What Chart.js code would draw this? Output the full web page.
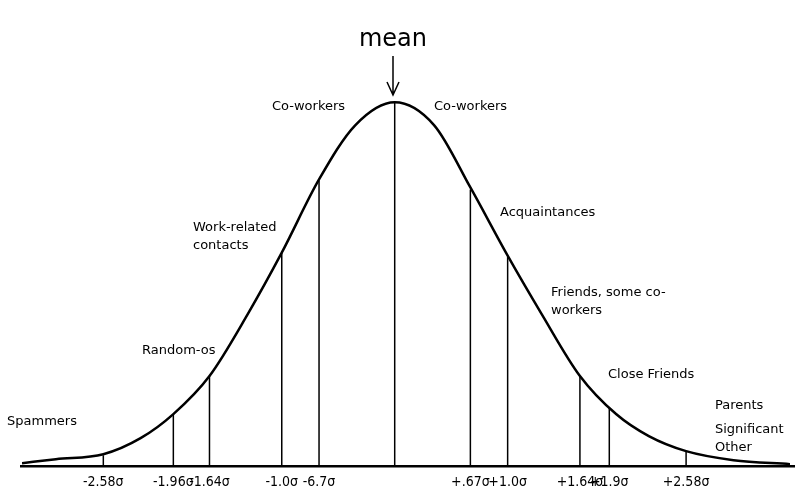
<!DOCTYPE html>
<html>
<head>
<meta charset="utf-8">
<script src="https://cdn.jsdelivr.net/npm/chart.js@4"></script>
<style>
  html, body { margin: 0; padding: 0; background: #fff; }
  #wrap { width: 806px; height: 499px; }
</style>
</head>
<body>
<div id="wrap"><canvas id="myChart" width="806" height="499"></canvas></div>
<script>
// curve (sigma position -> height above baseline)
const curveX = [-3.3, -3.0, -2.58, -2.25, -1.96, -1.64, -1.3, -1.0, -0.67, -0.35, 0, 0.35, 0.67, 1.0, 1.3, 1.64, 1.96, 2.25, 2.58, 3.0, 3.5];
const curveY = [3, 7, 12, 28, 52, 90, 152, 213, 286, 340, 363, 340, 278, 210, 152, 90, 52, 30, 15, 6, 2];

// marked cut points and height of each vertical stroke
const cutX = [-2.58, -1.96, -1.64, -1.0, -0.67, 0, 0.67, 1.0, 1.64, 1.9, 2.58];
const cutY = [11, 52, 90, 213, 285, 363, 276, 209, 90, 58, 15];
const cutLabels = ["-2.58σ", "-1.96σ", "-1.64σ", "-1.0σ", "-6.7σ", "", "+.67σ", "+1.0σ", "+1.64σ", "+1.9σ", "+2.58σ"];

// group labels: text lines, anchor pixel
const groups = [
    { lines: ["Co-workers"], x: 272, y: 107 },
    { lines: ["Co-workers"], x: 434, y: 107 },
    { lines: ["Acquaintances"], x: 500, y: 213 },
    { lines: ["Work-related", "contacts"], x: 193, y: 228 },
    { lines: ["Friends, some co-", "workers"], x: 551, y: 293 },
    { lines: ["Random-os"], x: 142, y: 351 },
    { lines: ["Close Friends"], x: 608, y: 375 },
    { lines: ["Spammers"], x: 7, y: 422 },
    { lines: ["Parents"], x: 715, y: 406 },
    { lines: ["Significant", "Other"], x: 715, y: 430 }
];

const curveData = curveX.map((x, i) => ({ x: x, y: curveY[i] }));
const strokes = [];
cutX.forEach((x, i) => {
    strokes.push({ x: x, y: 0 }, { x: x, y: cutY[i] }, { x: x, y: null });
});

const textPlugin = {
    id: 'texts',
    afterDraw(chart) {
        const ctx = chart.ctx;
        ctx.save();
        ctx.fillStyle = '#000';
        ctx.font = '13px "DejaVu Sans", Verdana, sans-serif';
        ctx.textBaseline = 'middle';
        ctx.textAlign = 'left';
        groups.forEach(g => {
            g.lines.forEach((t, k) => ctx.fillText(t, g.x, g.y + k * 18));
        });
        // mean + arrow
        ctx.font = '24px "DejaVu Sans", sans-serif';
        ctx.textAlign = 'center';
        ctx.fillText('mean', 393, 40);
        ctx.strokeStyle = '#000';
        ctx.lineWidth = 1.5;
        ctx.beginPath();
        ctx.moveTo(393, 56); ctx.lineTo(393, 94);
        ctx.moveTo(387, 82); ctx.lineTo(393, 95); ctx.lineTo(399, 82);
        ctx.stroke();
        // baseline
        const ys = chart.scales.y;
        ctx.lineWidth = 2.5;
        ctx.beginPath();
        ctx.moveTo(20, ys.getPixelForValue(0));
        ctx.lineTo(795, ys.getPixelForValue(0));
        ctx.stroke();
        ctx.restore();
    }
};

new Chart(document.getElementById('myChart'), {
    type: 'line',
    data: {
        datasets: [
            { data: curveData, borderColor: '#000', borderWidth: 2.5, cubicInterpolationMode: 'monotone', pointRadius: 0, fill: false },
            { data: strokes, borderColor: '#000', borderWidth: 1.5, tension: 0, pointRadius: 0, spanGaps: false, fill: false }
        ]
    },
    options: {
        responsive: false,
        animation: false,
        layout: { padding: { left: 22, right: 16, top: 0, bottom: 0 } },
        plugins: { legend: { display: false }, tooltip: { enabled: false } },
        scales: {
            x: {
                type: 'linear', min: -3.3, max: 3.5,
                grid: { display: false, drawTicks: false },
                border: { display: false },
                afterBuildTicks: axis => { axis.ticks = cutX.map(v => ({ value: v })); },
                ticks: {
                    autoSkip: false, maxRotation: 0, padding: 8,
                    color: '#000',
                    font: { size: 14, family: '"DejaVu Sans Condensed", "DejaVu Sans", sans-serif' },
                    callback: (v, i) => cutLabels[i]
                }
            },
            y: { min: 0, max: 465, display: false }
        }
    },
    plugins: [textPlugin]
});
</script>
</body>
</html>
